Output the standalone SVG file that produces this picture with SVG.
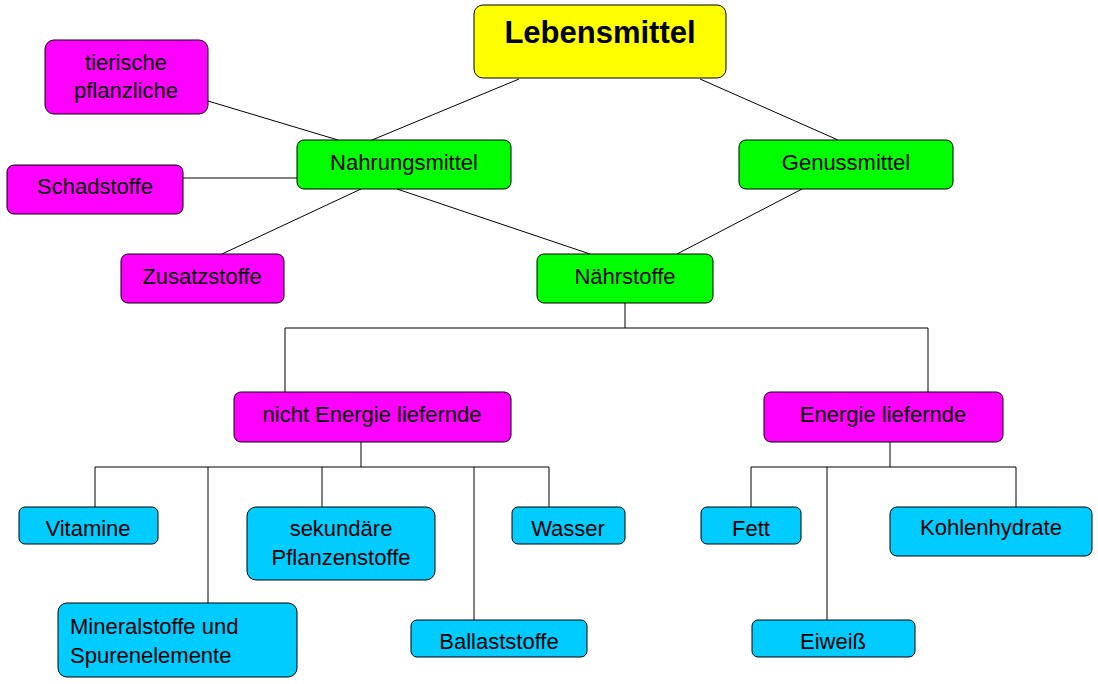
<svg xmlns="http://www.w3.org/2000/svg" width="1098" height="684" viewBox="0 0 1098 684">
<style>
.n{stroke:#000;stroke-width:1}
.y{fill:#ffff00}.g{fill:#00ff00}.m{fill:#ff00ff}.c{fill:#00ccff}
text{font-family:"Liberation Sans",Arial,sans-serif;font-size:22px;text-anchor:middle;fill:#000}
.t{font-size:31px;font-weight:bold}
#conn{stroke:#000;stroke-width:1;fill:none}
</style>
<rect width="1098" height="684" fill="#fff"/>
<g id="conn">
<path d="M519 79L372 140M700 79L838 140M208 101L338 140M183 178H297M361 189L222 254M397 189L590 254M802 189L677 254"/>
<path d="M625 303V328M285 328H928M285 328V392M928 328V392"/>
<path d="M361 442V467M95 467H549M95 467V507M208 467V603M322 467V507M474 467V620M549 467V507"/>
<path d="M890 442V467M751 467H1016M751 467V507M827 467V620M1016 467V507"/>
</g>
<g id="lebensmittel"><rect class="n y" x="474" y="5" width="252" height="73" rx="9"/><text class="t" x="600" y="43">Lebensmittel</text></g>
<g id="tierische"><rect class="n m" x="45" y="40" width="163" height="74" rx="9"/><text x="126" y="70">tierische</text><text x="126" y="98">pflanzliche</text></g>
<g id="nahrungsmittel"><rect class="n g" x="297" y="140" width="214" height="49" rx="7"/><text x="404" y="170">Nahrungsmittel</text></g>
<g id="genussmittel"><rect class="n g" x="739" y="140" width="214" height="49" rx="7"/><text x="846" y="170">Genussmittel</text></g>
<g id="schadstoffe"><rect class="n m" x="7" y="165" width="176" height="49" rx="7"/><text x="95" y="194">Schadstoffe</text></g>
<g id="zusatzstoffe"><rect class="n m" x="121" y="254" width="163" height="49" rx="7"/><text x="202" y="284">Zusatzstoffe</text></g>
<g id="naehrstoffe"><rect class="n g" x="537" y="254" width="176" height="49" rx="7"/><text x="625" y="284">Nährstoffe</text></g>
<g id="nicht"><rect class="n m" x="234" y="392" width="277" height="50" rx="7"/><text x="372" y="422">nicht Energie liefernde</text></g>
<g id="energie"><rect class="n m" x="764" y="392" width="239" height="50" rx="7"/><text x="883" y="422">Energie liefernde</text></g>
<g id="vitamine"><rect class="n c" x="19" y="507" width="139" height="37" rx="6"/><text x="88" y="536">Vitamine</text></g>
<g id="sekundaere"><rect class="n c" x="247" y="507" width="188" height="73" rx="9"/><text x="341" y="536">sekundäre</text><text x="341" y="565">Pflanzenstoffe</text></g>
<g id="wasser"><rect class="n c" x="512" y="507" width="113" height="37" rx="6"/><text x="568" y="536">Wasser</text></g>
<g id="fett"><rect class="n c" x="701" y="507" width="100" height="37" rx="6"/><text x="751" y="536">Fett</text></g>
<g id="kohlenhydrate"><rect class="n c" x="890" y="507" width="202" height="49" rx="7"/><text x="991" y="535">Kohlenhydrate</text></g>
<g id="mineralstoffe"><rect class="n c" x="58" y="603" width="239" height="74" rx="9"/><text x="70" y="634" style="text-anchor:start">Mineralstoffe und</text><text x="70" y="663" style="text-anchor:start">Spurenelemente</text></g>
<g id="ballaststoffe"><rect class="n c" x="411" y="620" width="176" height="37" rx="6"/><text x="499" y="649">Ballaststoffe</text></g>
<g id="eiweiss"><rect class="n c" x="752" y="620" width="163" height="37" rx="6"/><text x="833" y="649">Eiweiß</text></g>
</svg>
